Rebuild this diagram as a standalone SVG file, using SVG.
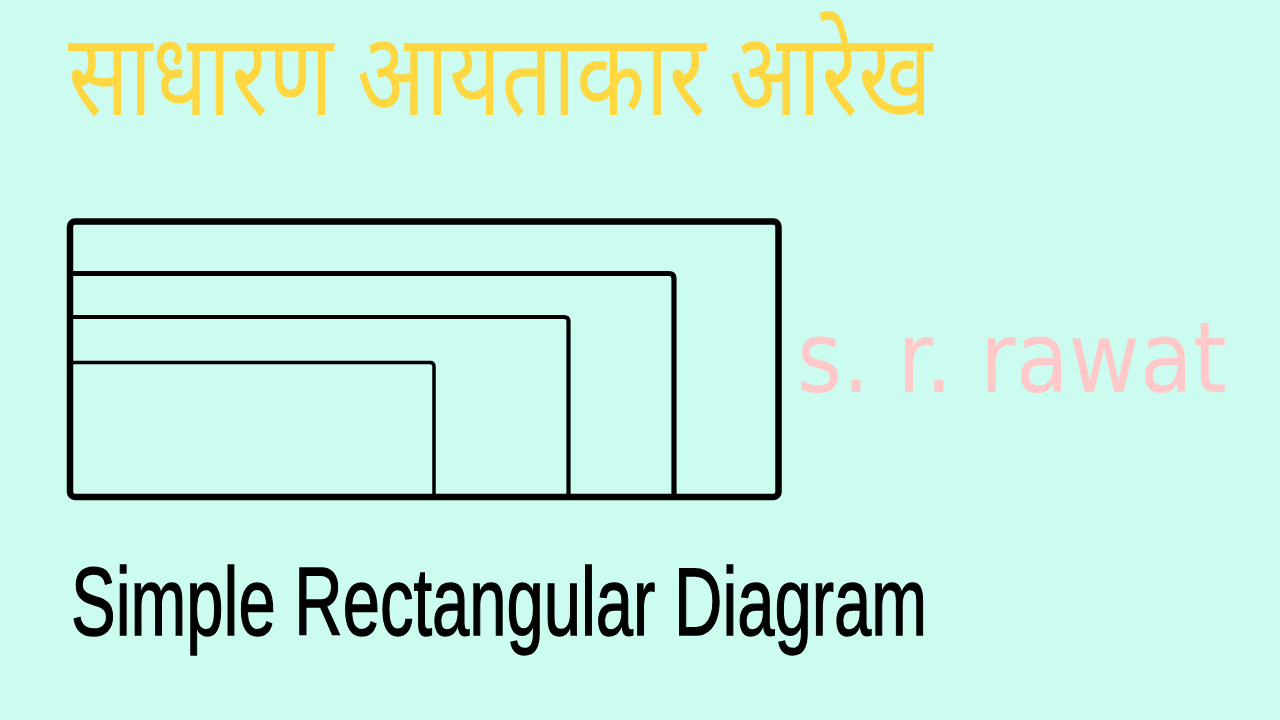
<svg xmlns="http://www.w3.org/2000/svg" width="1280" height="720" viewBox="0 0 1280 720">
<style>
.frame{fill:none;stroke:#000;stroke-linejoin:round}
.title{font-family:"Noto Sans Devanagari","Noto Sans","Noto Sans CJK SC",sans-serif;fill:#FFD740}
.caption{font-family:"Liberation Sans","DejaVu Sans",sans-serif;fill:#000;stroke:#000;stroke-width:1.4}
.author{font-family:"DejaVu Sans","Liberation Sans",sans-serif;fill:#FFC9C9}
</style>
<rect width="1280" height="720" fill="#CBFCEF"/>
<g id="title">
<text class="title" x="68" y="115" font-size="116" textLength="864" lengthAdjust="spacingAndGlyphs">साधारण आयताकार आरेख</text>
</g>
<g id="rect4">
<path class="frame" d="M72 362.5 H430 Q434 362.5 434 366.5 V497" stroke-width="3.5"/>
</g>
<g id="rect3">
<path class="frame" d="M72 317 H564 Q568.5 317 568.5 321 V497" stroke-width="4.2"/>
</g>
<g id="rect2">
<path class="frame" d="M72 273.5 H669 Q674 273.5 674 278.5 V497" stroke-width="5.2"/>
</g>
<g id="outer">
<rect class="frame" x="70" y="221.5" width="708.5" height="275.5" rx="5" stroke-width="6.5"/>
</g>
<g id="author">
<text class="author" transform="translate(797,392) scale(0.87,1)" x="0" y="0" font-size="98" textLength="494" lengthAdjust="spacingAndGlyphs">s. r. rawat</text>
</g>
<g id="caption">
<text class="caption" transform="translate(71,635) scale(0.7,1)" x="0" y="0" font-size="96" textLength="1223" lengthAdjust="spacingAndGlyphs">Simple Rectangular Diagram</text>
</g>
</svg>
